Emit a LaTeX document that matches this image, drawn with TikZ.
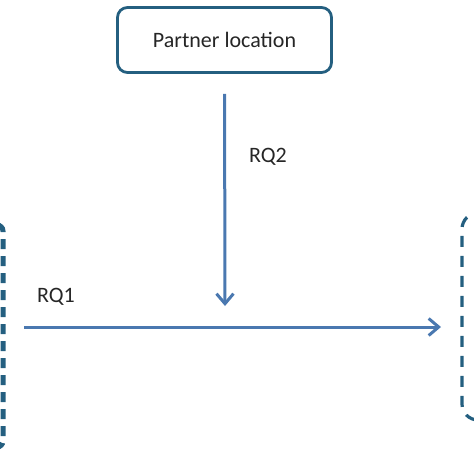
\documentclass[tikz,border=0pt]{standalone}
\usepackage{fontspec}
\setmainfont{Carlito}
\usepackage{tikz}
\usetikzlibrary{arrows.meta}

\definecolor{boxline}{HTML}{245F80}
\definecolor{arrowline}{HTML}{4A78B0}
\definecolor{labeltext}{HTML}{262626}

\begin{document}
\begin{tikzpicture}[x=1pt,y=-1pt,
        box/.style={draw=boxline, line width=2.8pt, rounded corners=10pt, fill=white},
        dashbox/.style={draw=boxline, dash pattern=on 10pt off 7pt, rounded corners=16pt},
        rqarrow/.style={draw=arrowline, line width=3pt, -{Straight Barb[length=10pt,width=17pt]}},
        rqlabel/.style={text=labeltext, font=\fontsize{22}{26}\selectfont}]
            \useasboundingbox (0,0) rectangle (474,474);
            \clip (0,0) rectangle (474,474);

            % top box
            \node[box, minimum width=214pt, minimum height=65pt,
                  font=\fontsize{22}{26}\selectfont, text=labeltext] (loc) at (224.5,40) {Partner location};

            % dashed boxes cut by the border
            \node[dashbox, line width=5pt, rounded corners=6pt, minimum width=120pt, minimum height=222pt] (left) at (-57,336) {};
            \node[dashbox, line width=3.2pt, dash pattern=on 11pt off 9pt, minimum width=120pt, minimum height=207pt] (right) at (522,316.5) {};

            \coordinate (rq2end) at (225,306);
            \coordinate (rq1start) at (24,327);
            \coordinate (rq1end) at (441,327);

            \draw[rqarrow, shorten <=20pt] (loc.south) -- (rq2end);
            \draw[rqarrow] (rq1start) -- (rq1end);

            \node[rqlabel] (rq2) at (268,157) {RQ2};
            \node[rqlabel] (rq1) at (56,297) {RQ1};
        \end{tikzpicture}
\end{document}
